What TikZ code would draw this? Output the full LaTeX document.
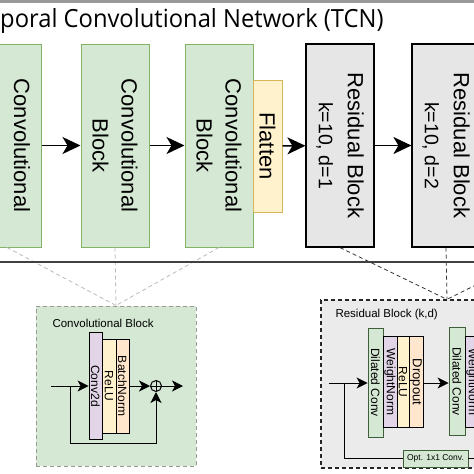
\documentclass[tikz,border=0pt]{standalone}
\usepackage{fontspec}
\setmainfont{Liberation Sans}
\newfontfamily\titlefont{Open Sans}
\usepackage{xcolor}
\definecolor{cgreen}{HTML}{D5E8D4}
\definecolor{cgreenline}{HTML}{82B366}
\definecolor{cdarkgreen}{HTML}{3F5F3A}
\definecolor{cgray}{HTML}{E6E6E6}
\definecolor{cyellow}{HTML}{FFF2CC}
\definecolor{cyellowline}{HTML}{D6B656}
\definecolor{cpurple}{HTML}{E1D5E7}
\definecolor{corange}{HTML}{FFE6CC}
\definecolor{cguide}{HTML}{BBBBBB}
\usepackage{tikz}
\usetikzlibrary{arrows.meta}

\begin{document}
\begin{tikzpicture}[x=1pt, y=-1pt,
    blk/.style={draw, inner sep=0pt, minimum width=68pt, minimum height=203pt},
    convblk/.style={blk, fill=cgreen, draw=cgreenline, line width=1pt},
    resblk/.style={blk, fill=cgray, draw=black, line width=1.2pt},
    bigtxt/.style={rotate=-90, align=center, font=\fontsize{22}{29}\selectfont},
    bar/.style={draw, inner sep=0pt, line width=0.8pt},
    bartxt/.style={rotate=-90, font=\fontsize{12}{13}\selectfont},
    bigarrow/.style={line width=1.5pt, -{Stealth[length=18pt, width=17pt, inset=5pt]}},
    smallarrow/.style={line width=1pt, -{Stealth[length=11pt, width=11pt, inset=3pt]}},
    guide/.style={dashed, dash pattern=on 4pt off 3pt, line width=0.8pt}]

            \useasboundingbox (0,0) rectangle (474,474);
            \clip (0,0) rectangle (474,474);
            \fill[black!40] (0,0) rectangle (474,3);
            \node[anchor=base west, font=\titlefont\fontsize{25}{30}\selectfont, inner sep=0pt] (title) at (0,27)
                {\scalebox{0.95}[1]{poral Convolutional Network (TCN)}};

            \node[convblk] (b1) at (7,145.5) {};
            \node[bigtxt] at (22,145.5) {Convolutional};
            \node[convblk] (b2) at (115,145.5) {};
            \node[bigtxt] at (b2) {Convolutional\\Block};
            \node[convblk] (b3) at (219,145.5) {};
            \node[bigtxt] at (b3) {Convolutional\\Block};
            \node[draw=cyellowline, fill=cyellow, line width=1pt, inner sep=0pt,
                minimum width=29pt, minimum height=132pt] (flat) at (267.5,146) {};
            \node[bigtxt] at (flat) {Flatten};
            \node[resblk] (r1) at (340,145.5) {};
            \node[bigtxt] at (r1) {Residual Block\\\fontsize{19.5}{29}\selectfont k=10, d=1};
            \node[resblk] (r2) at (446,145.5) {};
            \node[bigtxt] at (r2) {Residual Block\\\fontsize{19.5}{29}\selectfont k=10, d=2};
            \coordinate (r3) at (552,247);

            \draw[bigarrow] (b1) -- (b2);
            \draw[bigarrow] (b2) -- (b3);
            \draw[bigarrow] (flat) -- (r1);
            \draw[bigarrow] (r1) -- (r2);

            \node[draw=black!40, dashed, dash pattern=on 4pt off 3pt, fill=cgreen, line width=1pt,
                minimum width=160pt, minimum height=160pt, inner sep=0pt] (cdet) at (116,386) {};
            \node[draw=black!85, dashed, dash pattern=on 4pt off 3pt, fill=black!8, line width=1.2pt,
                minimum width=252pt, minimum height=168pt, inner sep=0pt] (rdet) at (447,384) {};

            \draw[guide, cguide] (b1.south) -- (cdet.north);
            \draw[guide, cguide] (b2.south) -- (cdet.north);
            \draw[guide, cguide] (b3.south) -- (cdet.north);
            \draw[guide, black!80] (r1.south) -- (rdet.north);
            \draw[guide, black!80] (r2.south) -- (rdet.north);
            \draw[guide, black!80] (r3) -- (rdet.north);
            \draw[line width=1.5pt, black!75] (0,262) -- (474,262);

            \node[anchor=base west, font=\fontsize{11.5}{13}\selectfont] at (49,327) {Convolutional Block};
            \node[bar, fill=cpurple, minimum width=13pt, minimum height=107pt] (conv) at (95.5,386) {};
            \node[bartxt] at (conv) {Conv2d};
            \node[bar, fill=cyellow, minimum width=14pt, minimum height=94pt] (crelu) at (109,386) {};
            \node[bartxt] at (crelu) {ReLU};
            \node[bar, fill=corange, minimum width=13pt, minimum height=94pt] (bnorm) at (122.5,386) {};
            \node[bartxt] at (bnorm) {BatchNorm};
            \node[circle, draw, line width=1pt, minimum size=11pt, inner sep=0pt] (plus) at (156,386) {};
            \draw[line width=1pt] (plus.north) -- (plus.south) (plus.west) -- (plus.east);
            \coordinate (cin) at (51,386);
            \coordinate (csplit) at (70,386);
            \coordinate (cout) at (183,386);
            \draw[smallarrow] (cin) -- (conv.west |- cin);
            \draw[smallarrow] (csplit) -- ++(0,57) -| (plus.south);
            \draw[smallarrow] (bnorm) -- (plus);
            \draw[smallarrow] (plus) -- (cout);

            \node[anchor=base west, font=\fontsize{11.5}{13}\selectfont] at (332,317) {Residual Block (k,d)};
            \node[bar, fill=cgreen, draw=cdarkgreen, minimum width=15pt, minimum height=109pt] (dil1) at (375.5,382.5) {};
            \node[bartxt] at (dil1) {Dilated Conv};
            \node[bar, fill=cpurple, minimum width=14pt, minimum height=91pt] (wn1) at (390,382) {};
            \node[bartxt] at (wn1) {WeightNorm};
            \node[bar, fill=cyellow, minimum width=12pt, minimum height=91pt] (rrelu1) at (403,382) {};
            \node[bartxt] at (rrelu1) {ReLU};
            \node[bar, fill=corange, minimum width=14pt, minimum height=91pt] (drop1) at (416,382) {};
            \node[bartxt, font=\fontsize{13}{14}\selectfont] at (drop1) {Dropout};
            \node[bar, fill=cgreen, draw=cdarkgreen, minimum width=16pt, minimum height=108pt] (dil2) at (457,381.5) {};
            \node[bartxt] at (dil2) {Dilated Conv};
            \node[bar, fill=cpurple, minimum width=14pt, minimum height=91pt] (wn2) at (472,382) {};
            \node[bartxt] at (wn2) {WeightNorm};
            \node[bar, fill=cgreen, draw=cdarkgreen, minimum width=65pt, minimum height=17pt,
                font=\fontsize{8.5}{10}\selectfont] (opt) at (435.5,458.5) {Opt. 1x1 Conv.};
            \coordinate (rin) at (329,383);
            \coordinate (rsplit) at (344,383);
            \coordinate (rbeyond) at (480,458.5);
            \draw[smallarrow] (rin) -- (dil1.west |- rin);
            \draw[line width=1pt] (rsplit) |- (opt.west);
            \draw[line width=1pt] (opt.east) -- (rbeyond);
            \draw[smallarrow] (drop1.east |- rin) -- (dil2.west |- rin);

          \end{tikzpicture}
\end{document}
